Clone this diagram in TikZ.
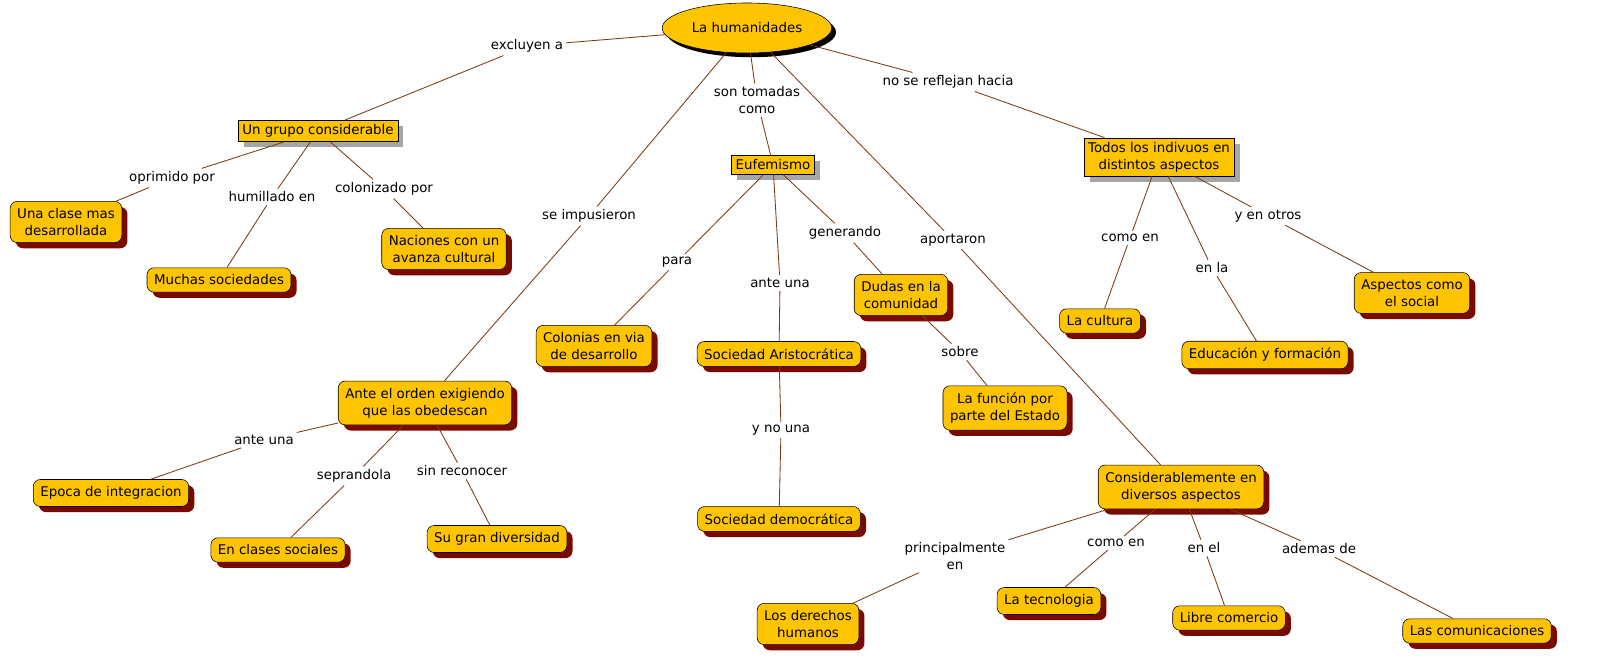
\documentclass[tikz,border=0pt]{standalone}
\usepackage{fontspec}
\setmainfont{DejaVu Sans}
\usetikzlibrary{shapes.geometric,shadows}
\definecolor{myyel}{HTML}{FFC400}
\definecolor{myred}{HTML}{7A0A00}
\definecolor{mylink}{HTML}{7A3A12}
\tikzset{
  concept/.style={rectangle, rounded corners=5pt, draw=black, fill=myyel, align=center, inner sep=5pt,
    font=\fontsize{9.5}{12}\selectfont, drop shadow={shadow xshift=4pt, shadow yshift=-4pt, fill=myred, opacity=1}},
  plain/.style={rectangle, draw=black, fill=myyel, align=center, inner sep=3pt,
    font=\fontsize{9.5}{12}\selectfont, drop shadow={shadow xshift=4pt, shadow yshift=-4pt, fill=gray!70, opacity=1}},
  root/.style={ellipse, draw=black, fill=myyel, minimum width=3.5cm, minimum height=1.25cm,
    font=\fontsize{9.5}{12}\selectfont, drop shadow={shadow xshift=3pt, shadow yshift=-3pt, fill=black, opacity=1}},
  lab/.style={align=center, inner sep=2pt, font=\fontsize{9.5}{12}\selectfont},
  link/.style={mylink, line width=0.6pt}
}
\begin{document}
\begin{tikzpicture}[x=0.025cm, y=-0.025cm]
\useasboundingbox (0,0) rectangle (1600,668);
% concepts
\node (hum) [root] at (747,28) {La humanidades};
\node (grupo) [plain] at (318,131) {Un grupo considerable};
\node (clase) [concept] at (66,222) {Una clase mas\\desarrollada};
\node (muchas) [concept] at (219,280) {Muchas sociedades};
\node (naciones) [concept] at (444,249) {Naciones con un\\avanza cultural};
\node (eufem) [plain] at (773,165) {Eufemismo};
\node (todos) [plain] at (1159,157) {Todos los indivuos en\\distintos aspectos};
\node (orden) [concept] at (425,403) {Ante el orden exigiendo\\que las obedescan};
\node (colonias) [concept] at (594,346) {Colonias en via\\de desarrollo};
\node (arist) [concept] at (779,354) {Sociedad Aristocrática};
\node (dudas) [concept] at (901,295) {Dudas en la\\comunidad};
\node (funcion) [concept] at (1005,408) {La función por\\parte del Estado};
\node (democr) [concept] at (779,519) {Sociedad democrática};
\node (consid) [concept] at (1181,487) {Considerablemente en\\diversos aspectos};
\node (cultura) [concept] at (1100,321) {La cultura};
\node (educ) [concept] at (1265,355) {Educación y formación};
\node (aspectos) [concept] at (1412,293) {Aspectos como\\el social};
\node (epoca) [concept] at (111,493) {Epoca de integracion};
\node (clases) [concept] at (278,550) {En clases sociales};
\node (divers) [concept] at (497,539) {Su gran diversidad};
\node (derechos) [concept] at (808,624) {Los derechos\\humanos};
\node (tecno) [concept] at (1049,601) {La tecnologia};
\node (libre) [concept] at (1229,618) {Libre comercio};
\node (comunic) [concept] at (1477,631) {Las comunicaciones};
% linking phrases
\node (lexcl) [lab] at (527,46) {excluyen a};
\node (lson) [lab] at (757,100) {son tomadas\\como};
\node (lnose) [lab] at (948,82) {no se reflejan hacia};
\node (limp) [lab] at (589,216) {se impusieron};
\node (lapor) [lab] at (953,240) {aportaron};
\node (lopr) [lab] at (172,178) {oprimido por};
\node (lhum) [lab] at (272,197) {humillado en};
\node (lcol) [lab] at (384,189) {colonizado por};
\node (lpara) [lab] at (677,262) {para};
\node (lante) [lab] at (780,283) {ante una};
\node (lgen) [lab] at (845,233) {generando};
\node (lsob) [lab] at (960,352) {sobre};
\node (lyno) [lab] at (781,430) {y no una};
\node (lcomo) [lab] at (1130,238) {como en};
\node (lenla) [lab] at (1212,268) {en la};
\node (lyen) [lab] at (1268,216) {y en otros};
\node (lante2) [lab] at (264,440) {ante una};
\node (lsep) [lab] at (354,476) {seprandola};
\node (lsin) [lab] at (462,471) {sin reconocer};
\node (lprin) [lab] at (955,556) {principalmente\\en};
\node (lcomo2) [lab] at (1116,543) {como en};
\node (lenel) [lab] at (1204,548) {en el};
\node (lade) [lab] at (1319,549) {ademas de};
% links
\draw [link] (hum) -- (lexcl) -- (grupo);
\draw [link] (hum) -- (lson) -- (eufem);
\draw [link] (hum) -- (lnose) -- (todos);
\draw [link] (hum) -- (limp) -- (orden);
\draw [link] (hum) -- (lapor) -- (consid);
\draw [link] (grupo) -- (lopr) -- (clase);
\draw [link] (grupo) -- (lhum) -- (muchas);
\draw [link] (grupo) -- (lcol) -- (naciones);
\draw [link] (eufem) -- (lpara) -- (colonias);
\draw [link] (eufem) -- (lante) -- (arist);
\draw [link] (eufem) -- (lgen) -- (dudas);
\draw [link] (dudas) -- (lsob) -- (funcion);
\draw [link] (arist) -- (lyno) -- (democr);
\draw [link] (todos) -- (lcomo) -- (cultura);
\draw [link] (todos) -- (lenla) -- (educ);
\draw [link] (todos) -- (lyen) -- (aspectos);
\draw [link] (orden) -- (lante2) -- (epoca);
\draw [link] (orden) -- (lsep) -- (clases);
\draw [link] (orden) -- (lsin) -- (divers);
\draw [link] (consid) -- (lprin) -- (derechos);
\draw [link] (consid) -- (lcomo2) -- (tecno);
\draw [link] (consid) -- (lenel) -- (libre);
\draw [link] (consid) -- (lade) -- (comunic);
\end{tikzpicture}
\end{document}
